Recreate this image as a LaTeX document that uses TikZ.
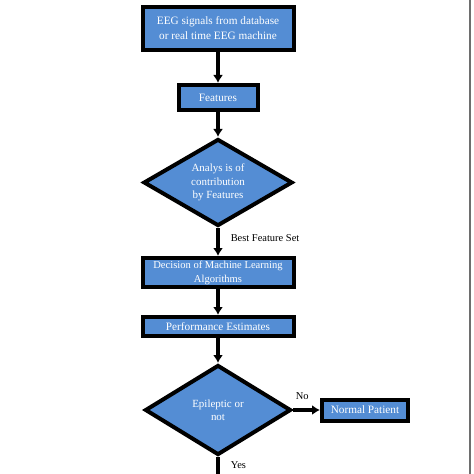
\documentclass[tikz,border=0pt]{standalone}
\usepackage{fontspec}
\setmainfont{Liberation Serif}
\usepackage{tikz}
\usetikzlibrary{
  arrows.meta,
  positioning,
  shapes.geometric,
}
\tikzstyle{block} = [
  draw,
  rectangle,
  line width=4bp,
  fill=boxblue,
  text=white,
  align=center,
  inner sep=1bp,
  font=\fontsize{11.3}{15}\selectfont,
]
\tikzstyle{decision} = [
  draw,
  diamond,
  aspect=1.6,
  line width=4bp,
  fill=boxblue,
  text=white,
  align=center,
  inner sep=0pt,
  font=\fontsize{11}{13.5}\selectfont,
]
\tikzstyle{arrow} = [
  -{Latex[length=8bp,width=10bp]},
  line width=3.5bp,
]
\tikzstyle{flowlabel} = [
  font=\fontsize{10.5}{12}\selectfont,
  text=black,
  inner sep=1bp,
]
\definecolor{boxblue}{RGB}{84, 141, 212}
\definecolor{edgegray}{RGB}{110, 110, 110}

\begin{document}
\begin{tikzpicture}[x=1bp,y=-1bp]
    \fill[white] (0,0) rectangle (474,474);
    \useasboundingbox (0,0) rectangle (474,474);
    \draw[edgegray,line width=2bp] (470,0) -- (470,474);

        \node[block,minimum width=151bp,minimum height=43bp]    (source) at (218,28.5)  {EEG signals from database\\or real time EEG machine};
        \node[block,minimum width=79bp,minimum height=25bp]    (features)  [below=31bp of source]      {Features};
        \node[decision,minimum width=149bp,minimum height=87bp]    (analysis)    [below=25bp of features]    {Analys is of\\contribution\\by Features};
        \node[block,minimum width=151bp,minimum height=29bp,font=\fontsize{10.6}{14}\selectfont]    (choice) [below=28bp of analysis]       {Decision of Machine Learning\\Algorithms};
        \node[block,minimum width=151bp,minimum height=19bp]    (performance)    [below=26bp of choice]    {Performance Estimates};
        \node[decision,minimum width=146bp,minimum height=90bp]    (epileptic)    [below=25bp of performance]    {Epileptic or\\not};
        \node[block,minimum width=86bp,minimum height=21bp]    (normal)    [right=27bp of epileptic]    {Normal Patient};
        \coordinate (exit) at (epileptic.south |- 0,476);

        \draw[arrow] (source) -- (features);
        \draw[arrow] (features) -- (analysis);
        \draw[arrow] (analysis) -- node[flowlabel,anchor=west,pos=0.36,xshift=10bp] {Best Feature Set} (choice);
        \draw[arrow] (choice) -- (performance);
        \draw[arrow] (performance) -- (epileptic);
        \draw[arrow] (epileptic) -- node[flowlabel,anchor=south west,pos=0,yshift=8bp] {No} (normal);
        \draw[line width=3.5bp] (epileptic) -- node[flowlabel,anchor=west,pos=0.45,xshift=10bp] {Yes} (exit);
    \end{tikzpicture}
\end{document}
